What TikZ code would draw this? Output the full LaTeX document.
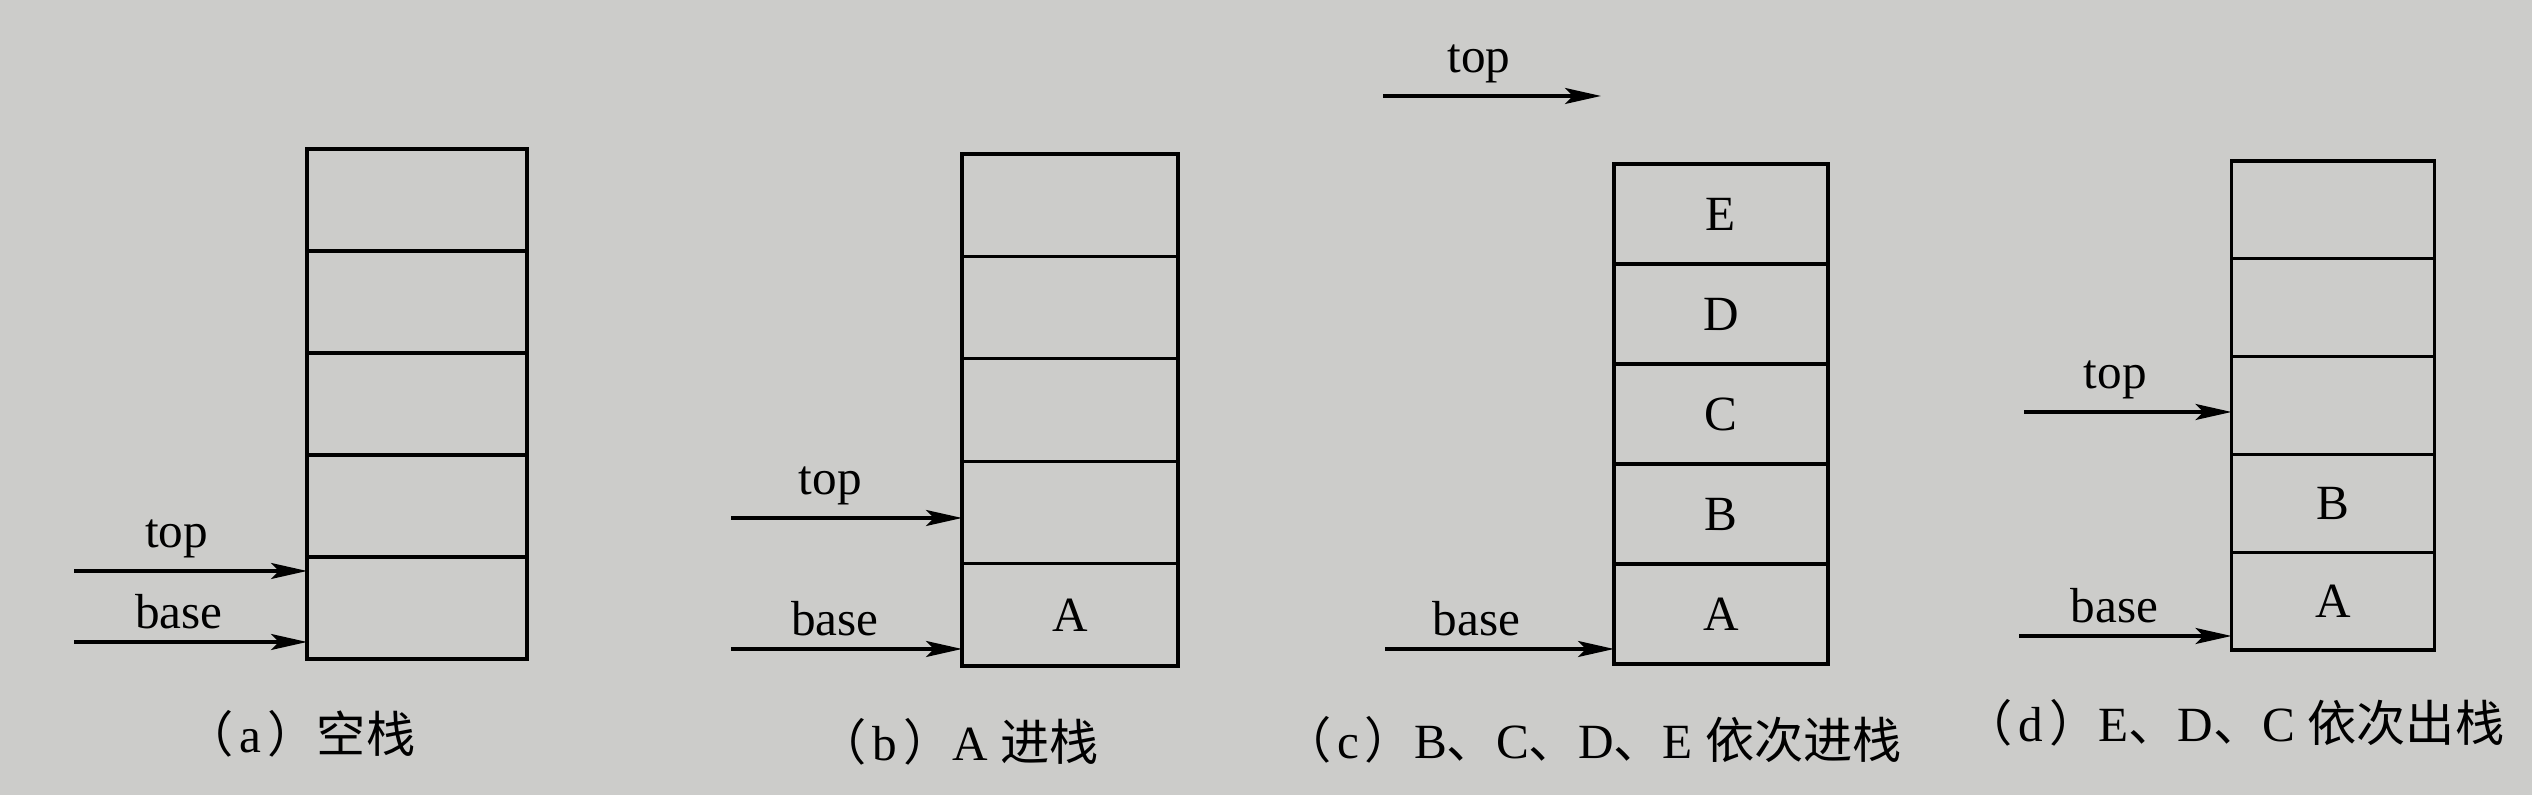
\documentclass[tikz,border=0pt]{standalone}
\usepackage{fontspec}
\setmainfont{Liberation Serif}
\newfontfamily\cjk{Noto Sans CJK SC}
\usetikzlibrary{positioning, arrows.meta}
\definecolor{paper}{RGB}{204,204,202}
\newcommand{\zh}[1]{{\cjk #1}}
\newcommand{\sub}[1]{\zh{（}\hspace{0.12em}#1\hspace{0.12em}\zh{）}}
\tikzset{
  cell/.style={draw, line width=0.9pt, outer sep=0pt, inner sep=0pt, font=\fontsize{14}{16}\selectfont},
  ptr/.style={-{Stealth[length=3.6mm,width=1.6mm,inset=0.8mm]}, line width=0.9pt},
  lbl/.style={font=\fontsize{14}{16}\selectfont},
  caption/.style={font=\fontsize{14}{16}\selectfont}
}
\begin{document}
\begin{tikzpicture}
\fill[paper] (0,0) rectangle (25.32,7.95);
\useasboundingbox (0,0) rectangle (25.32,7.95);

% (a) empty stack
\foreach \i in {1,...,5}
  \node[cell, minimum width=2.20cm, minimum height=1.02cm] (a\i) at (4.17, {1.36+1.02*(\i-0.5)}) {};
\coordinate (atop)  at (0.74, 2.24);
\coordinate (abase) at (0.74, 1.53);
\draw[ptr] (atop)  -- (atop -| a1.west)  node[lbl, pos=0.44, above] {top};
\draw[ptr] (abase) -- (abase -| a1.west) node[lbl, pos=0.45, above] {base};
\node[caption] (capa) at (3.00, 0.61) {\sub{a}\zh{空栈}};

% (b) push A
\foreach \i/\t in {1/A,2/{},3/{},4/{},5/{}}
  \node[cell, minimum width=2.16cm, minimum height=1.024cm] (b\i) at (10.70, {1.29+1.024*(\i-0.5)}) {\t};
\coordinate (btop)  at (7.31, 2.77);
\coordinate (bbase) at (7.31, 1.46);
\draw[ptr] (btop)  -- (btop -| b1.west)  node[lbl, pos=0.43, above] {top};
\draw[ptr] (bbase) -- (bbase -| b1.west) node[lbl, pos=0.45, above] {base};
\node[caption] (capb) at (9.58, 0.53) {\sub{b}A \zh{进栈}};

% (c) push B, C, D, E
\foreach \i/\t in {1/A,2/B,3/C,4/D,5/E}
  \node[cell, minimum width=2.14cm, minimum height=1.0cm] (c\i) at (17.21, {1.31+1.0*(\i-0.5)}) {\t};
\coordinate (ctop)    at (13.83, 6.99);
\coordinate (ctopend) at (16.01, 6.99);
\coordinate (cbase)   at (13.85, 1.46);
\draw[ptr] (ctop)  -- (ctopend)          node[lbl, pos=0.44, above] {top};
\draw[ptr] (cbase) -- (cbase -| c1.west) node[lbl, pos=0.40, above] {base};
\node[caption] (capc) at (15.92, 0.55) {\sub{c}B\zh{、}C\zh{、}D\zh{、}E \zh{依次进栈}};

% (d) pop E, D, C
\foreach \i/\t in {1/A,2/B,3/{},4/{},5/{}}
  \node[cell, minimum width=2.03cm, minimum height=0.978cm] (d\i) at (23.33, {1.45+0.978*(\i-0.5)}) {\t};
\coordinate (dtop)  at (20.24, 3.83);
\coordinate (dbase) at (20.19, 1.59);
\draw[ptr] (dtop)  -- (dtop -| d1.west)  node[lbl, pos=0.44, above] {top};
\draw[ptr] (dbase) -- (dbase -| d1.west) node[lbl, pos=0.45, above] {base};
\node[caption] (capd) at (22.34, 0.72) {\sub{d}E\zh{、}D\zh{、}C \zh{依次出栈}};
\end{tikzpicture}
\end{document}
